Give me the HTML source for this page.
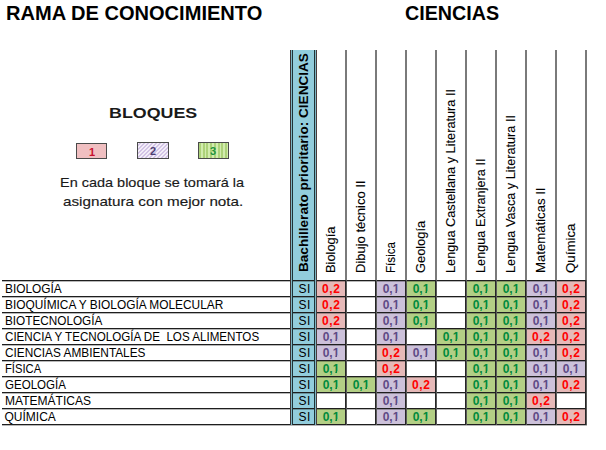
<!DOCTYPE html>
<html><head><meta charset="utf-8"><style>
html,body{margin:0;padding:0;background:#fff;}
body{width:606px;height:450px;position:relative;overflow:hidden;font-family:"Liberation Sans",sans-serif;color:#1a1a1a;}
.a{position:absolute;white-space:pre;}
.hl{position:absolute;height:1px;background:#1e1e1e;}
.vl{position:absolute;width:2px;background:#4a4a4a;}
.c{position:absolute;height:15px;width:28px;}
.p{background:#E6B9B8;}
.u{background:#CCC1DA;}
.g{background:#B3CF85;}
.t{position:absolute;width:28px;text-align:center;font-weight:bold;font-size:12px;line-height:16px;height:15px;}
.tp{color:#FF0000;}
.one{clip-path:polygon(0 0,100% 0,100% 66%,66% 66%,66% 100%,40% 100%,40% 66%,0 66%);}
.tu{color:#5F4A86;}
.tg{color:#008A3C;}
.nm{position:absolute;left:4.5px;font-size:12px;line-height:16px;transform-origin:0 0;color:#000;}
.vh{position:absolute;font-size:12px;line-height:13px;transform-origin:0 0;color:#000;-webkit-text-stroke:0.1px #000;}
</style></head><body>

<div class="a" style="left:5.5px;top:1px;font-size:20px;font-weight:bold;line-height:24px;transform-origin:0 0;transform:scaleX(1.003);color:#000">RAMA DE CONOCIMIENTO</div>
<div class="a" style="left:405px;top:1px;font-size:20px;font-weight:bold;line-height:24px;transform-origin:0 0;transform:scaleX(0.985);color:#000">CIENCIAS</div>
<div class="a" style="left:108.5px;top:104px;font-size:15.2px;font-weight:bold;line-height:18px;transform-origin:0 0;transform:scaleX(1.175)">BLOQUES</div>
<div class="a" style="left:76px;top:143px;width:29px;height:14px;border:1px solid #4a4a4a;background:#F0BFC1;"></div>
<div class="a" style="left:86px;top:143px;width:12px;text-align:center;font-size:11px;font-weight:bold;line-height:18px;color:#C8102E;">1</div>
<div class="a" style="left:137px;top:142px;width:30px;height:15px;border:1px solid #4a4a4a;background:repeating-linear-gradient(135deg,#F3EEF8 0 1.3px,#D3C4E6 1.3px 2.8px);"></div>
<div class="a" style="left:147px;top:142px;width:12px;text-align:center;font-size:11px;font-weight:bold;line-height:18px;color:#4E3D72;">2</div>
<div class="a" style="left:198px;top:142px;width:29px;height:15px;border:1px solid #4a4a4a;background:repeating-linear-gradient(90deg,#ADD27A 0 1.9px,#D2ECAE 1.9px 3.75px);"></div>
<div class="a" style="left:207px;top:142px;width:12px;text-align:center;font-size:11px;font-weight:bold;line-height:18px;color:#1E9440;">3</div>
<div class="a" style="left:60px;top:175px;font-size:13px;line-height:16px;transform-origin:0 0;transform:scaleX(1.1125);color:#1a1a1a;-webkit-text-stroke:0.15px #1a1a1a;">En cada bloque se tomará la</div>
<div class="a" style="left:63px;top:194px;font-size:13px;line-height:16px;transform-origin:0 0;transform:scaleX(1.171);color:#1a1a1a;-webkit-text-stroke:0.15px #1a1a1a;">asignatura con mejor nota.</div>
<div class="a" style="left:290px;top:50px;width:27px;height:375px;background:#92CDDC;"></div>
<div class="c p" style="left:317px;top:281px"></div>
<div class="t tp" style="left:317px;top:281px;letter-spacing:0.6px;text-indent:0.6px">0,2</div>
<div class="c u" style="left:377px;top:281px"></div>
<div class="t tu" style="left:377px;top:281px">0,<span class="one">1</span></div>
<div class="c g" style="left:407px;top:281px"></div>
<div class="t tg" style="left:407px;top:281px">0,<span class="one">1</span></div>
<div class="c g" style="left:467px;top:281px"></div>
<div class="t tg" style="left:467px;top:281px">0,<span class="one">1</span></div>
<div class="c g" style="left:497px;top:281px"></div>
<div class="t tg" style="left:497px;top:281px">0,<span class="one">1</span></div>
<div class="c u" style="left:527px;top:281px"></div>
<div class="t tu" style="left:527px;top:281px">0,<span class="one">1</span></div>
<div class="c p" style="left:557px;top:281px"></div>
<div class="t tp" style="left:557px;top:281px;letter-spacing:0.6px;text-indent:0.6px">0,2</div>
<div class="a" style="left:294px;top:282px;width:21px;text-align:center;font-size:12px;line-height:15px;color:#000;letter-spacing:0.5px;text-indent:0.5px;">SI</div>
<div class="nm a" style="top:281px;transform:scaleX(0.990)">BIOLOGÍA</div>
<div class="c p" style="left:317px;top:297px"></div>
<div class="t tp" style="left:317px;top:297px;letter-spacing:0.6px;text-indent:0.6px">0,2</div>
<div class="c u" style="left:377px;top:297px"></div>
<div class="t tu" style="left:377px;top:297px">0,<span class="one">1</span></div>
<div class="c g" style="left:407px;top:297px"></div>
<div class="t tg" style="left:407px;top:297px">0,<span class="one">1</span></div>
<div class="c g" style="left:467px;top:297px"></div>
<div class="t tg" style="left:467px;top:297px">0,<span class="one">1</span></div>
<div class="c g" style="left:497px;top:297px"></div>
<div class="t tg" style="left:497px;top:297px">0,<span class="one">1</span></div>
<div class="c u" style="left:527px;top:297px"></div>
<div class="t tu" style="left:527px;top:297px">0,<span class="one">1</span></div>
<div class="c p" style="left:557px;top:297px"></div>
<div class="t tp" style="left:557px;top:297px;letter-spacing:0.6px;text-indent:0.6px">0,2</div>
<div class="a" style="left:294px;top:298px;width:21px;text-align:center;font-size:12px;line-height:15px;color:#000;letter-spacing:0.5px;text-indent:0.5px;">SI</div>
<div class="nm a" style="top:297px;transform:scaleX(0.991)">BIOQUÍMICA Y BIOLOGÍA MOLECULAR</div>
<div class="c p" style="left:317px;top:313px"></div>
<div class="t tp" style="left:317px;top:313px;letter-spacing:0.6px;text-indent:0.6px">0,2</div>
<div class="c u" style="left:377px;top:313px"></div>
<div class="t tu" style="left:377px;top:313px">0,<span class="one">1</span></div>
<div class="c g" style="left:407px;top:313px"></div>
<div class="t tg" style="left:407px;top:313px">0,<span class="one">1</span></div>
<div class="c g" style="left:467px;top:313px"></div>
<div class="t tg" style="left:467px;top:313px">0,<span class="one">1</span></div>
<div class="c g" style="left:497px;top:313px"></div>
<div class="t tg" style="left:497px;top:313px">0,<span class="one">1</span></div>
<div class="c u" style="left:527px;top:313px"></div>
<div class="t tu" style="left:527px;top:313px">0,<span class="one">1</span></div>
<div class="c p" style="left:557px;top:313px"></div>
<div class="t tp" style="left:557px;top:313px;letter-spacing:0.6px;text-indent:0.6px">0,2</div>
<div class="a" style="left:294px;top:314px;width:21px;text-align:center;font-size:12px;line-height:15px;color:#000;letter-spacing:0.5px;text-indent:0.5px;">SI</div>
<div class="nm a" style="top:313px;transform:scaleX(0.980)">BIOTECNOLOGÍA</div>
<div class="c u" style="left:317px;top:329px"></div>
<div class="t tu" style="left:317px;top:329px">0,<span class="one">1</span></div>
<div class="c u" style="left:377px;top:329px"></div>
<div class="t tu" style="left:377px;top:329px">0,<span class="one">1</span></div>
<div class="c g" style="left:437px;top:329px"></div>
<div class="t tg" style="left:437px;top:329px">0,<span class="one">1</span></div>
<div class="c g" style="left:467px;top:329px"></div>
<div class="t tg" style="left:467px;top:329px">0,<span class="one">1</span></div>
<div class="c g" style="left:497px;top:329px"></div>
<div class="t tg" style="left:497px;top:329px">0,<span class="one">1</span></div>
<div class="c p" style="left:527px;top:329px"></div>
<div class="t tp" style="left:527px;top:329px;letter-spacing:0.6px;text-indent:0.6px">0,2</div>
<div class="c p" style="left:557px;top:329px"></div>
<div class="t tp" style="left:557px;top:329px;letter-spacing:0.6px;text-indent:0.6px">0,2</div>
<div class="a" style="left:294px;top:330px;width:21px;text-align:center;font-size:12px;line-height:15px;color:#000;letter-spacing:0.5px;text-indent:0.5px;">SI</div>
<div class="nm a" style="top:329px;transform:scaleX(0.968)">CIENCIA Y TECNOLOGÍA DE&nbsp; LOS ALIMENTOS</div>
<div class="c u" style="left:317px;top:345px"></div>
<div class="t tu" style="left:317px;top:345px">0,<span class="one">1</span></div>
<div class="c p" style="left:377px;top:345px"></div>
<div class="t tp" style="left:377px;top:345px;letter-spacing:0.6px;text-indent:0.6px">0,2</div>
<div class="c u" style="left:407px;top:345px"></div>
<div class="t tu" style="left:407px;top:345px">0,<span class="one">1</span></div>
<div class="c g" style="left:437px;top:345px"></div>
<div class="t tg" style="left:437px;top:345px">0,<span class="one">1</span></div>
<div class="c g" style="left:467px;top:345px"></div>
<div class="t tg" style="left:467px;top:345px">0,<span class="one">1</span></div>
<div class="c g" style="left:497px;top:345px"></div>
<div class="t tg" style="left:497px;top:345px">0,<span class="one">1</span></div>
<div class="c u" style="left:527px;top:345px"></div>
<div class="t tu" style="left:527px;top:345px">0,<span class="one">1</span></div>
<div class="c p" style="left:557px;top:345px"></div>
<div class="t tp" style="left:557px;top:345px;letter-spacing:0.6px;text-indent:0.6px">0,2</div>
<div class="a" style="left:294px;top:346px;width:21px;text-align:center;font-size:12px;line-height:15px;color:#000;letter-spacing:0.5px;text-indent:0.5px;">SI</div>
<div class="nm a" style="top:345px;transform:scaleX(0.986)">CIENCIAS AMBIENTALES</div>
<div class="c g" style="left:317px;top:361px"></div>
<div class="t tg" style="left:317px;top:361px">0,<span class="one">1</span></div>
<div class="c p" style="left:377px;top:361px"></div>
<div class="t tp" style="left:377px;top:361px;letter-spacing:0.6px;text-indent:0.6px">0,2</div>
<div class="c g" style="left:467px;top:361px"></div>
<div class="t tg" style="left:467px;top:361px">0,<span class="one">1</span></div>
<div class="c g" style="left:497px;top:361px"></div>
<div class="t tg" style="left:497px;top:361px">0,<span class="one">1</span></div>
<div class="c u" style="left:527px;top:361px"></div>
<div class="t tu" style="left:527px;top:361px">0,<span class="one">1</span></div>
<div class="c u" style="left:557px;top:361px"></div>
<div class="t tu" style="left:557px;top:361px">0,<span class="one">1</span></div>
<div class="a" style="left:294px;top:362px;width:21px;text-align:center;font-size:12px;line-height:15px;color:#000;letter-spacing:0.5px;text-indent:0.5px;">SI</div>
<div class="nm a" style="top:361px;transform:scaleX(0.935)">FÍSICA</div>
<div class="c g" style="left:317px;top:377px"></div>
<div class="t tg" style="left:317px;top:377px">0,<span class="one">1</span></div>
<div class="c g" style="left:347px;top:377px"></div>
<div class="t tg" style="left:347px;top:377px">0,<span class="one">1</span></div>
<div class="c u" style="left:377px;top:377px"></div>
<div class="t tu" style="left:377px;top:377px">0,<span class="one">1</span></div>
<div class="c p" style="left:407px;top:377px"></div>
<div class="t tp" style="left:407px;top:377px;letter-spacing:0.6px;text-indent:0.6px">0,2</div>
<div class="c g" style="left:467px;top:377px"></div>
<div class="t tg" style="left:467px;top:377px">0,<span class="one">1</span></div>
<div class="c g" style="left:497px;top:377px"></div>
<div class="t tg" style="left:497px;top:377px">0,<span class="one">1</span></div>
<div class="c u" style="left:527px;top:377px"></div>
<div class="t tu" style="left:527px;top:377px">0,<span class="one">1</span></div>
<div class="c p" style="left:557px;top:377px"></div>
<div class="t tp" style="left:557px;top:377px;letter-spacing:0.6px;text-indent:0.6px">0,2</div>
<div class="a" style="left:294px;top:378px;width:21px;text-align:center;font-size:12px;line-height:15px;color:#000;letter-spacing:0.5px;text-indent:0.5px;">SI</div>
<div class="nm a" style="top:377px;transform:scaleX(0.962)">GEOLOGÍA</div>
<div class="c u" style="left:377px;top:393px"></div>
<div class="t tu" style="left:377px;top:393px">0,<span class="one">1</span></div>
<div class="c g" style="left:467px;top:393px"></div>
<div class="t tg" style="left:467px;top:393px">0,<span class="one">1</span></div>
<div class="c g" style="left:497px;top:393px"></div>
<div class="t tg" style="left:497px;top:393px">0,<span class="one">1</span></div>
<div class="c p" style="left:527px;top:393px"></div>
<div class="t tp" style="left:527px;top:393px;letter-spacing:0.6px;text-indent:0.6px">0,2</div>
<div class="a" style="left:294px;top:394px;width:21px;text-align:center;font-size:12px;line-height:15px;color:#000;letter-spacing:0.5px;text-indent:0.5px;">SI</div>
<div class="nm a" style="top:393px;transform:scaleX(1.002)">MATEMÁTICAS</div>
<div class="c g" style="left:317px;top:409px"></div>
<div class="t tg" style="left:317px;top:409px">0,<span class="one">1</span></div>
<div class="c u" style="left:377px;top:409px"></div>
<div class="t tu" style="left:377px;top:409px">0,<span class="one">1</span></div>
<div class="c g" style="left:407px;top:409px"></div>
<div class="t tg" style="left:407px;top:409px">0,<span class="one">1</span></div>
<div class="c g" style="left:467px;top:409px"></div>
<div class="t tg" style="left:467px;top:409px">0,<span class="one">1</span></div>
<div class="c g" style="left:497px;top:409px"></div>
<div class="t tg" style="left:497px;top:409px">0,<span class="one">1</span></div>
<div class="c u" style="left:527px;top:409px"></div>
<div class="t tu" style="left:527px;top:409px">0,<span class="one">1</span></div>
<div class="c p" style="left:557px;top:409px"></div>
<div class="t tp" style="left:557px;top:409px;letter-spacing:0.6px;text-indent:0.6px">0,2</div>
<div class="a" style="left:294px;top:410px;width:21px;text-align:center;font-size:12px;line-height:15px;color:#000;letter-spacing:0.5px;text-indent:0.5px;">SI</div>
<div class="nm a" style="top:409px;transform:scaleX(1.000)">QUÍMICA</div>
<div class="hl" style="left:2px;top:280px;width:585px"></div>
<div class="hl" style="left:2px;top:281px;width:585px;background:rgba(0,0,0,0.28)"></div>
<div class="hl" style="left:2px;top:296px;width:585px"></div>
<div class="hl" style="left:2px;top:297px;width:585px;background:rgba(0,0,0,0.28)"></div>
<div class="hl" style="left:2px;top:312px;width:585px"></div>
<div class="hl" style="left:2px;top:313px;width:585px;background:rgba(0,0,0,0.28)"></div>
<div class="hl" style="left:2px;top:328px;width:585px"></div>
<div class="hl" style="left:2px;top:329px;width:585px;background:rgba(0,0,0,0.28)"></div>
<div class="hl" style="left:2px;top:344px;width:585px"></div>
<div class="hl" style="left:2px;top:345px;width:585px;background:rgba(0,0,0,0.28)"></div>
<div class="hl" style="left:2px;top:360px;width:585px"></div>
<div class="hl" style="left:2px;top:361px;width:585px;background:rgba(0,0,0,0.28)"></div>
<div class="hl" style="left:2px;top:376px;width:585px"></div>
<div class="hl" style="left:2px;top:377px;width:585px;background:rgba(0,0,0,0.28)"></div>
<div class="hl" style="left:2px;top:392px;width:585px"></div>
<div class="hl" style="left:2px;top:393px;width:585px;background:rgba(0,0,0,0.28)"></div>
<div class="hl" style="left:2px;top:408px;width:585px"></div>
<div class="hl" style="left:2px;top:409px;width:585px;background:rgba(0,0,0,0.28)"></div>
<div class="hl" style="left:2px;top:424px;width:585px"></div>
<div class="hl" style="left:2px;top:425px;width:585px;background:rgba(0,0,0,0.28)"></div>
<div class="vl" style="left:345px;top:50px;height:230px;background:#7a7a7a"></div>
<div class="a" style="left:345px;top:280px;height:145px;width:1px;background:#262626"></div>
<div class="a" style="left:346px;top:280px;height:145px;width:1px;background:#5a5a5a"></div>
<div class="vl" style="left:375px;top:50px;height:230px;background:#7a7a7a"></div>
<div class="a" style="left:375px;top:280px;height:145px;width:1px;background:#262626"></div>
<div class="a" style="left:376px;top:280px;height:145px;width:1px;background:#5a5a5a"></div>
<div class="vl" style="left:405px;top:50px;height:230px;background:#7a7a7a"></div>
<div class="a" style="left:405px;top:280px;height:145px;width:1px;background:#262626"></div>
<div class="a" style="left:406px;top:280px;height:145px;width:1px;background:#5a5a5a"></div>
<div class="vl" style="left:435px;top:50px;height:230px;background:#7a7a7a"></div>
<div class="a" style="left:435px;top:280px;height:145px;width:1px;background:#262626"></div>
<div class="a" style="left:436px;top:280px;height:145px;width:1px;background:#5a5a5a"></div>
<div class="vl" style="left:465px;top:50px;height:230px;background:#7a7a7a"></div>
<div class="a" style="left:465px;top:280px;height:145px;width:1px;background:#262626"></div>
<div class="a" style="left:466px;top:280px;height:145px;width:1px;background:#5a5a5a"></div>
<div class="vl" style="left:495px;top:50px;height:230px;background:#7a7a7a"></div>
<div class="a" style="left:495px;top:280px;height:145px;width:1px;background:#262626"></div>
<div class="a" style="left:496px;top:280px;height:145px;width:1px;background:#5a5a5a"></div>
<div class="vl" style="left:525px;top:50px;height:230px;background:#7a7a7a"></div>
<div class="a" style="left:525px;top:280px;height:145px;width:1px;background:#262626"></div>
<div class="a" style="left:526px;top:280px;height:145px;width:1px;background:#5a5a5a"></div>
<div class="vl" style="left:555px;top:50px;height:230px;background:#7a7a7a"></div>
<div class="a" style="left:555px;top:280px;height:145px;width:1px;background:#262626"></div>
<div class="a" style="left:556px;top:280px;height:145px;width:1px;background:#5a5a5a"></div>
<div class="vl" style="left:585px;top:50px;height:230px;background:#7a7a7a"></div>
<div class="a" style="left:585px;top:280px;height:145px;width:1px;background:#262626"></div>
<div class="a" style="left:586px;top:280px;height:145px;width:1px;background:#5a5a5a"></div>
<div class="a" style="left:290px;top:50px;width:1px;height:375px;background:#3f3434;"></div>
<div class="a" style="left:292px;top:50px;width:1px;height:375px;background:#1f3438;"></div>
<div class="a" style="left:314px;top:50px;width:1px;height:375px;background:#1f3438;"></div>
<div class="a" style="left:316px;top:50px;width:1px;height:375px;background:#4a3c3c;"></div>
<div class="a" style="left:291px;top:50px;width:1px;height:375px;background:#7DB8C6;"></div>
<div class="a" style="left:315px;top:50px;width:1px;height:375px;background:#7DB8C6;"></div>
<div class="a" style="left:297px;top:272px;font-size:13px;font-weight:bold;line-height:14px;transform-origin:0 0;color:#000;transform:rotate(-90deg) scaleX(1.045)">Bachillerato prioritario: CIENCIAS</div>
<div class="vh a" style="left:325px;top:272.5px;transform:rotate(-90deg) scaleX(1.071)">Biología</div>
<div class="vh a" style="left:355px;top:272.5px;transform:rotate(-90deg) scaleX(1.083)">Dibujo técnico II</div>
<div class="vh a" style="left:385px;top:272.5px;transform:rotate(-90deg) scaleX(0.970)">Física</div>
<div class="vh a" style="left:415px;top:272.5px;transform:rotate(-90deg) scaleX(1.070)">Geología</div>
<div class="vh a" style="left:445px;top:272.5px;transform:rotate(-90deg) scaleX(1.061)">Lengua Castellana y Literatura II</div>
<div class="vh a" style="left:475px;top:272.5px;transform:rotate(-90deg) scaleX(1.059)">Lengua Extranjera II</div>
<div class="vh a" style="left:505px;top:272.5px;transform:rotate(-90deg) scaleX(1.059)">Lengua Vasca y Literatura II</div>
<div class="vh a" style="left:535px;top:272.5px;transform:rotate(-90deg) scaleX(1.096)">Matemáticas II</div>
<div class="vh a" style="left:565px;top:272.5px;transform:rotate(-90deg) scaleX(1.107)">Química</div>
</body></html>
